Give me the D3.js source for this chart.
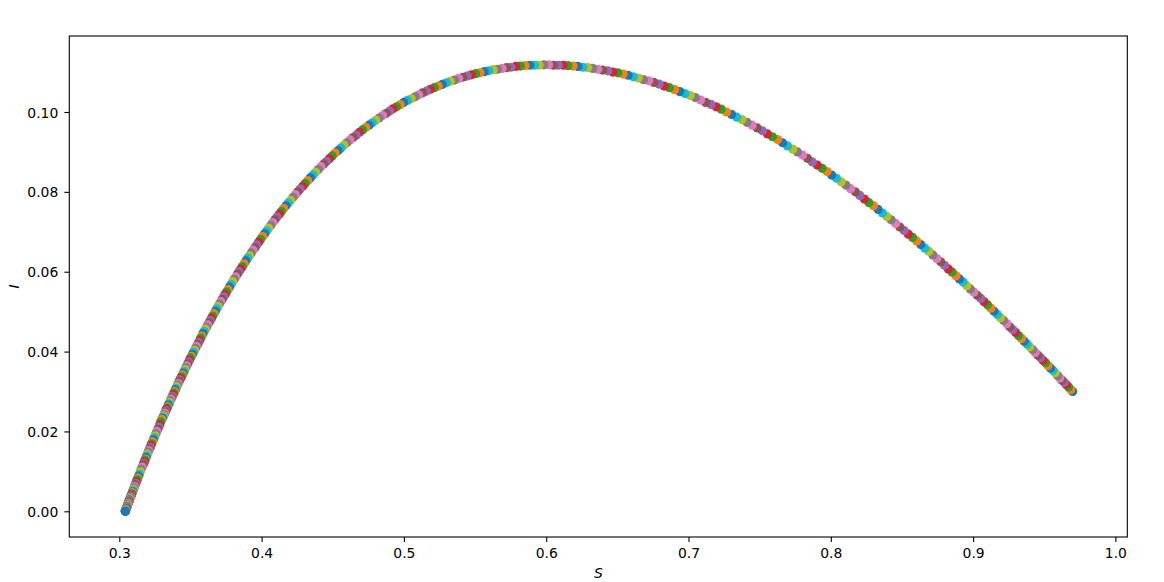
<!DOCTYPE html>
<html><head><meta charset="utf-8">
<script src="https://cdn.jsdelivr.net/npm/d3@7"></script>
<style>body{margin:0;background:#fff} text{font-family:"DejaVu Sans",sans-serif}</style>
</head><body><svg id="c" width="1164" height="582"></svg>
<script>
// Trajectory of the SIR model in the (S, I) plane, one point per time step
const S = [
0.9700,0.9686,0.9671,0.9656,0.9640,0.9625,0.9609,0.9593,0.9577,0.9560,
0.9543,0.9526,0.9509,0.9491,0.9473,0.9455,0.9436,0.9418,0.9398,0.9379,
0.9359,0.9340,0.9319,0.9299,0.9278,0.9257,0.9236,0.9214,0.9192,0.9170,
0.9147,0.9124,0.9101,0.9077,0.9054,0.9029,0.9005,0.8980,0.8955,0.8930,
0.8904,0.8879,0.8852,0.8826,0.8799,0.8772,0.8745,0.8717,0.8689,0.8661,
0.8632,0.8603,0.8574,0.8545,0.8515,0.8485,0.8455,0.8424,0.8394,0.8363,
0.8332,0.8300,0.8268,0.8236,0.8204,0.8172,0.8139,0.8106,0.8073,0.8040,
0.8006,0.7973,0.7939,0.7905,0.7870,0.7836,0.7801,0.7766,0.7732,0.7696,
0.7661,0.7626,0.7590,0.7555,0.7519,0.7483,0.7447,0.7411,0.7375,0.7339,
0.7303,0.7267,0.7230,0.7194,0.7158,0.7121,0.7085,0.7048,0.7012,0.6975,
0.6939,0.6902,0.6866,0.6829,0.6793,0.6757,0.6720,0.6684,0.6648,0.6612,
0.6576,0.6540,0.6504,0.6469,0.6433,0.6397,0.6362,0.6327,0.6292,0.6257,
0.6222,0.6188,0.6153,0.6119,0.6085,0.6051,0.6017,0.5983,0.5950,0.5917,
0.5884,0.5851,0.5818,0.5786,0.5753,0.5721,0.5690,0.5658,0.5627,0.5596,
0.5565,0.5534,0.5504,0.5474,0.5444,0.5414,0.5385,0.5355,0.5326,0.5298,
0.5269,0.5241,0.5213,0.5186,0.5158,0.5131,0.5104,0.5078,0.5051,0.5025,
0.4999,0.4974,0.4948,0.4923,0.4898,0.4874,0.4850,0.4826,0.4802,0.4778,
0.4755,0.4732,0.4709,0.4687,0.4665,0.4643,0.4621,0.4599,0.4578,0.4557,
0.4537,0.4516,0.4496,0.4476,0.4456,0.4437,0.4417,0.4398,0.4379,0.4361,
0.4342,0.4324,0.4306,0.4289,0.4271,0.4254,0.4237,0.4220,0.4204,0.4187,
0.4171,0.4155,0.4139,0.4124,0.4108,0.4093,0.4078,0.4064,0.4049,0.4035,
0.4021,0.4007,0.3993,0.3979,0.3966,0.3953,0.3939,0.3927,0.3914,0.3901,
0.3889,0.3877,0.3865,0.3853,0.3841,0.3830,0.3818,0.3807,0.3796,0.3785,
0.3774,0.3764,0.3753,0.3743,0.3733,0.3723,0.3713,0.3703,0.3693,0.3684,
0.3675,0.3665,0.3656,0.3647,0.3639,0.3630,0.3621,0.3613,0.3605,0.3596,
0.3588,0.3580,0.3572,0.3565,0.3557,0.3550,0.3542,0.3535,0.3528,0.3521,
0.3514,0.3507,0.3500,0.3493,0.3487,0.3480,0.3474,0.3467,0.3461,0.3455,
0.3449,0.3443,0.3437,0.3431,0.3425,0.3420,0.3414,0.3409,0.3403,0.3398,
0.3393,0.3388,0.3383,0.3378,0.3373,0.3368,0.3363,0.3358,0.3354,0.3349,
0.3344,0.3340,0.3336,0.3331,0.3327,0.3323,0.3319,0.3315,0.3311,0.3307,
0.3303,0.3299,
0.3291,0.3284,0.3277,0.3270,0.3263,0.3257,0.3251,0.3245,0.3239,0.3233,
0.3227,0.3222,0.3217,0.3211,0.3206,0.3202,0.3197,0.3192,0.3188,0.3184,
0.3180,0.3176,0.3172,0.3168,
0.3160,0.3153,0.3147,0.3141,0.3135,0.3130,0.3125,0.3120,0.3116,0.3111,
0.3107,0.3104,0.3100,0.3097,0.3093,0.3091,0.3088,0.3085,0.3083,0.3080,
0.3078,0.3076,0.3074,0.3072,0.3070,0.3069,0.3067,0.3066,0.3064,0.3063,
0.3062,
0.3059,0.3057,0.3055,0.3053,0.3051,0.3050,0.3049,0.3048,0.3047,0.3046,
0.3046,0.3045,0.3045,0.3044,0.3044,0.3044,0.3043,0.3043,0.3043,0.3043,
0.3043,0.3042,0.3042,0.3042
];
const I = [
0.0300,0.0305,0.0311,0.0317,0.0323,0.0328,0.0334,0.0340,0.0347,0.0353,
0.0359,0.0365,0.0372,0.0378,0.0385,0.0391,0.0398,0.0405,0.0412,0.0419,
0.0426,0.0433,0.0440,0.0448,0.0455,0.0462,0.0470,0.0478,0.0485,0.0493,
0.0501,0.0509,0.0517,0.0525,0.0533,0.0541,0.0549,0.0557,0.0565,0.0574,
0.0582,0.0590,0.0599,0.0607,0.0616,0.0625,0.0633,0.0642,0.0651,0.0659,
0.0668,0.0677,0.0686,0.0694,0.0703,0.0712,0.0721,0.0730,0.0738,0.0747,
0.0756,0.0765,0.0773,0.0782,0.0791,0.0800,0.0808,0.0817,0.0825,0.0834,
0.0842,0.0851,0.0859,0.0867,0.0875,0.0884,0.0892,0.0900,0.0907,0.0915,
0.0923,0.0931,0.0938,0.0945,0.0953,0.0960,0.0967,0.0974,0.0981,0.0987,
0.0994,0.1000,0.1007,0.1013,0.1019,0.1024,0.1030,0.1036,0.1041,0.1046,
0.1051,0.1056,0.1061,0.1065,0.1070,0.1074,0.1078,0.1081,0.1085,0.1088,
0.1092,0.1095,0.1098,0.1100,0.1103,0.1105,0.1107,0.1109,0.1111,0.1112,
0.1114,0.1115,0.1116,0.1117,0.1117,0.1117,0.1118,0.1118,0.1117,0.1117,
0.1117,0.1116,0.1115,0.1114,0.1112,0.1111,0.1109,0.1107,0.1106,0.1103,
0.1101,0.1098,0.1096,0.1093,0.1090,0.1087,0.1084,0.1080,0.1077,0.1073,
0.1069,0.1065,0.1061,0.1057,0.1052,0.1048,0.1043,0.1038,0.1033,0.1029,
0.1024,0.1018,0.1013,0.1008,0.1002,0.0996,0.0991,0.0985,0.0979,0.0973,
0.0967,0.0961,0.0955,0.0949,0.0942,0.0936,0.0930,0.0923,0.0917,0.0910,
0.0903,0.0897,0.0890,0.0883,0.0876,0.0870,0.0863,0.0856,0.0849,0.0842,
0.0835,0.0828,0.0821,0.0814,0.0807,0.0800,0.0793,0.0786,0.0779,0.0772,
0.0765,0.0758,0.0751,0.0744,0.0737,0.0730,0.0723,0.0716,0.0709,0.0702,
0.0695,0.0688,0.0681,0.0674,0.0667,0.0660,0.0654,0.0647,0.0640,0.0634,
0.0627,0.0620,0.0613,0.0607,0.0600,0.0594,0.0587,0.0581,0.0575,0.0568,
0.0562,0.0555,0.0549,0.0543,0.0537,0.0531,0.0525,0.0519,0.0513,0.0507,
0.0501,0.0495,0.0489,0.0483,0.0478,0.0472,0.0467,0.0461,0.0456,0.0450,
0.0445,0.0439,0.0434,0.0428,0.0423,0.0418,0.0413,0.0408,0.0403,0.0398,
0.0393,0.0388,0.0384,0.0379,0.0374,0.0369,0.0364,0.0360,0.0355,0.0350,
0.0346,0.0342,0.0337,0.0333,0.0329,0.0325,0.0320,0.0316,0.0312,0.0308,
0.0304,0.0300,0.0296,0.0292,0.0288,0.0284,0.0281,0.0277,0.0273,0.0269,
0.0266,0.0262,0.0259,0.0256,0.0252,0.0249,0.0246,0.0242,0.0239,0.0236,
0.0233,0.0230,
0.0224,0.0217,0.0211,0.0205,0.0200,0.0194,0.0189,0.0184,0.0179,0.0174,
0.0169,0.0165,0.0160,0.0156,0.0152,0.0148,0.0143,0.0139,0.0135,0.0131,
0.0128,0.0124,0.0120,0.0117,
0.0111,0.0105,0.0099,0.0093,0.0088,0.0083,0.0079,0.0074,0.0070,0.0066,
0.0062,0.0059,0.0055,0.0052,0.0049,0.0047,0.0044,0.0041,0.0039,0.0037,
0.0035,0.0033,0.0031,0.0029,0.0028,0.0026,0.0024,0.0023,0.0022,0.0020,
0.0019,
0.0017,0.0014,0.0012,0.0011,0.0009,0.0008,0.0007,0.0006,0.0005,0.0004,
0.0004,0.0003,0.0003,0.0002,0.0002,0.0002,0.0002,0.0001,0.0001,0.0001,
0.0001,0.0001,0.0000,0.0000
];
const xTicks = [0.3, 0.4, 0.5, 0.6, 0.7, 0.8, 0.9, 1.0];
const yTicks = [0.00, 0.02, 0.04, 0.06, 0.08, 0.10];
const xLabel = "S";
const yLabel = "I";
const palette = ["#1f77b4","#ff7f0e","#2ca02c","#d62728","#9467bd","#8c564b","#e377c2","#7f7f7f","#bcbd22","#17becf"];

const L = 69.3, R = 1127.3, T = 36, B = 537;
const FS = 13.9;
const x = d3.scaleLinear().domain([0.26486, 1.00836]).range([L, R]);
const y = d3.scaleLinear().domain([-0.006436, 0.11903]).range([B, T]);
const svg = d3.select("#c");

const pts = S.map((s, i) => ({ s: s, v: I[i], i: i }));
svg.append("g").selectAll("circle").data(pts).join("circle")
  .attr("cx", d => x(d.s)).attr("cy", d => y(d.v)).attr("r", 4.6)
  .attr("fill", d => palette[d.i % 10]);

const xa = svg.append("g").attr("transform", `translate(0,${B})`)
  .call(d3.axisBottom(x).tickValues(xTicks).tickFormat(d3.format(".1f"))
    .tickSize(4.9).tickPadding(6.6).tickSizeOuter(0));
const ya = svg.append("g").attr("transform", `translate(${L},0)`)
  .call(d3.axisLeft(y).tickValues(yTicks).tickFormat(d3.format(".2f"))
    .tickSize(4.9).tickPadding(6.1).tickSizeOuter(0));
[xa, ya].forEach(a => {
  a.select(".domain").remove();
  a.selectAll("line").attr("stroke", "#000").attr("stroke-width", 1.1);
  a.selectAll("text").attr("font-size", FS).attr("fill", "#000")
    .attr("font-family", "DejaVu Sans");
});
ya.selectAll("text").attr("dy", "0.36em");

svg.append("rect").attr("x", L).attr("y", T).attr("width", R - L).attr("height", B - T)
  .attr("fill", "none").attr("stroke", "#000").attr("stroke-width", 1.1);

svg.append("text").attr("x", (L + R) / 2).attr("y", 578).attr("text-anchor", "middle")
  .attr("font-size", FS).attr("font-style", "italic").text(xLabel);
svg.append("text").attr("transform", `translate(18.5,${(T + B) / 2}) rotate(-90)`)
  .attr("text-anchor", "middle").attr("font-size", FS).attr("font-style", "italic").text(yLabel);
</script></body></html>
